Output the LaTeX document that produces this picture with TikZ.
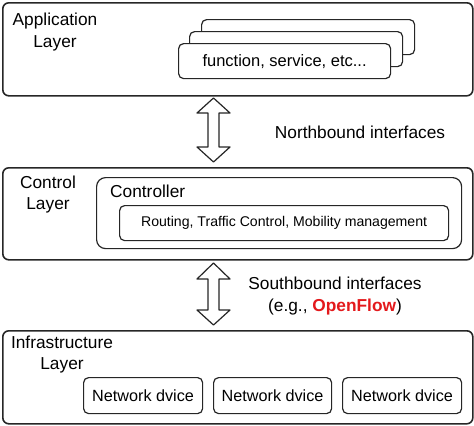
\documentclass[tikz,border=0pt]{standalone}
\usepackage{fontspec}
\setmainfont{Liberation Sans}
\definecolor{ofred}{HTML}{E3191C}
\begin{document}
\begin{tikzpicture}[x=1bp,y=-1bp,line join=round,
  layer/.style={draw=black!85,line width=1.6bp,rounded corners=6bp,inner sep=0pt,anchor=north west},
  box/.style={draw=black!85,line width=1.2bp,rounded corners=5bp,fill=white,inner sep=0pt,anchor=north west},
  big/.style={font=\fontsize{17.3bp}{21.5bp}\selectfont,align=center,inner sep=0pt},
  arr/.style={draw=black!85,line width=1.2bp,fill=white}]
\useasboundingbox (0,0) rectangle (474,425);
% layers
\node[layer,minimum width=470bp,minimum height=93bp] (app) at (2,2) {};
\node[layer,minimum width=470bp,minimum height=92bp] (ctl) at (2,167) {};
\node[layer,minimum width=470bp,minimum height=93bp] (inf) at (2,330) {};
% layer labels
\node[big] (applbl) at (55,32) {Application\\Layer};
\node[big] (ctllbl) at (48,194.5) {Control\\Layer};
\node[big] (inflbl) at (62,354.5) {Infrastructure\\Layer};
% application stack
\node[box,minimum width=213bp,minimum height=35bp] (st3) at (201,19) {};
\node[box,minimum width=213bp,minimum height=35bp] (st2) at (189,31) {};
\node[box,minimum width=212bp,minimum height=35bp] (st1) at (178,43) {};
\node[font=\fontsize{16.5bp}{20bp}\selectfont,inner sep=0pt] (fn) at (st1.center) {function, service, etc...};
% controller
\node[box,rounded corners=9bp,minimum width=365bp,minimum height=71bp] (con) at (96,177) {};
\node[big,anchor=west] (conlbl) at (110,191) {Controller};
\node[box,minimum width=329bp,minimum height=35bp] (rt) at (119,205) {};
\node[font=\fontsize{14.1bp}{17bp}\selectfont,inner sep=0pt] (rtlbl) at (rt.center) {Routing, Traffic Control, Mobility management};
% network devices
\node[box,minimum width=119bp,minimum height=36bp] (d1) at (83,377) {};
\node[box,minimum width=118bp,minimum height=36bp] (d2) at (213,377) {};
\node[box,minimum width=119bp,minimum height=36bp] (d3) at (342,377) {};
\foreach \d in {d1,d2,d3}
  \node[font=\fontsize{16.2bp}{20bp}\selectfont,inner sep=0pt] at (\d.center) {Network dvice};
% interface arrows
\draw[arr] (213.5,98) -- (230,113) -- (219,113) -- (219,147) -- (230,147) -- (213.5,162)
  -- (197,147) -- (208,147) -- (208,113) -- (197,113) -- cycle;
\draw[arr] (213.5,263) -- (230,279) -- (219,279) -- (219,310) -- (230,310) -- (213.5,325)
  -- (197,310) -- (208,310) -- (208,279) -- (197,279) -- cycle;
\node[big] (nb) at (360,132) {Northbound interfaces};
\node[big,align=center] (sb) at (335,296) {Southbound interfaces\\(e.g., \textcolor{ofred}{\textbf{OpenFlow}})};
\end{tikzpicture}
\end{document}
